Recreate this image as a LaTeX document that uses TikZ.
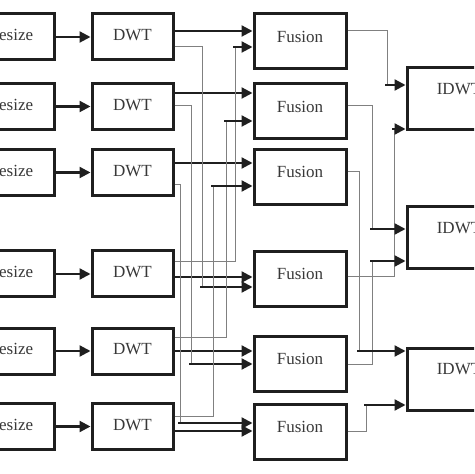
\documentclass[tikz,border=0pt]{standalone}
\usepackage{fontspec}
\setmainfont{Liberation Serif}
\usetikzlibrary{arrows.meta}

\begin{document}
\begin{tikzpicture}[x=0.5pt,y=-0.5pt,
    box/.style={draw=black!88,line width=1.5pt,inner sep=0pt,text=black!78,
        font=\fontsize{8.5}{10}\selectfont,text height=6pt},
    rsbox/.style={box,minimum width=43.5pt,minimum height=23pt,text depth=2.4pt},
    dwtbox/.style={box,minimum width=40.5pt,minimum height=23pt,text depth=2.4pt},
    fusbox/.style={box,minimum width=46pt,minimum height=27.5pt,text depth=5.4pt},
    idwtbox/.style={box,minimum width=52pt,minimum height=31pt,text depth=10.4pt},
    arr/.style={line width=1.1pt,black!88,-{Triangle[length=5.5pt,width=5.5pt]}},
    wire/.style={line width=0.5pt,black!50}]
        \useasboundingbox (0,0) rectangle (474,474);
        \clip (0,0) rectangle (474,474);
        % resize column
        \node at (10.5,37) [rsbox] (rs1) {Resize};
        \node at (10.5,106.5) [rsbox] (rs2) {Resize};
        \node at (10.5,172.5) [rsbox] (rs3) {Resize};
        \node at (10.5,274) [rsbox] (rs4) {Resize};
        \node at (10.5,351) [rsbox] (rs5) {Resize};
        \node at (10.5,426.5) [rsbox] (rs6) {Resize};
        % dwt column
        \node at (132.5,37) [dwtbox] (dwt1) {DWT};
        \node at (132.5,106.5) [dwtbox] (dwt2) {DWT};
        \node at (132.5,172.5) [dwtbox] (dwt3) {DWT};
        \node at (132.5,274) [dwtbox] (dwt4) {DWT};
        \node at (132.5,351) [dwtbox] (dwt5) {DWT};
        \node at (132.5,426.5) [dwtbox] (dwt6) {DWT};
        % fusion column
        \node at (300,41.5) [fusbox] (fus1) {Fusion};
        \node at (300,111.5) [fusbox] (fus2) {Fusion};
        \node at (300,177) [fusbox] (fus3) {Fusion};
        \node at (300,279) [fusbox] (fus4) {Fusion};
        \node at (300,364) [fusbox] (fus5) {Fusion};
        \node at (300,432) [fusbox] (fus6) {Fusion};
        % idwt column
        \node at (459,98.5) [idwtbox] (idwt1) {IDWT};
        \node at (459,238) [idwtbox] (idwt2) {IDWT};
        \node at (459,379) [idwtbox] (idwt3) {IDWT};
        \draw[arr] (rs1) -- (dwt1);
        \draw[arr] (rs2) -- (dwt2);
        \draw[arr] (rs3) -- (dwt3);
        \draw[arr] (rs4) -- (dwt4);
        \draw[arr] (rs5) -- (dwt5);
        \draw[arr] (rs6) -- (dwt6);
        % straight dwt -> fusion
        \draw[arr] (dwt1.east |- 0,31) -- (fus1.west |- 0,31);
        \draw[arr] (dwt2.east |- 0,93) -- (fus2.west |- 0,93);
        \draw[arr] (dwt3.east |- 0,163) -- (fus3.west |- 0,163);
        \draw[arr] (dwt4.east |- 0,277) -- (fus4.west |- 0,277);
        \draw[arr] (dwt5.east |- 0,351) -- (fus5.west |- 0,351);
        \draw[arr] (dwt6.east |- 0,431) -- (fus6.west |- 0,431);
        % crossed dwt -> fusion
        \draw[wire] (dwt1.east |- 0,47) -| (202,287);
        \draw[arr] (200,287) -- (fus4.west |- 0,287);
        \draw[wire] (dwt2.east |- 0,106) -| (191,364);
        \draw[arr] (189,364) -- (fus5.west |- 0,364);
        \draw[wire] (dwt3.east |- 0,185) -| (180,423);
        \draw[arr] (178,423) -- (fus6.west |- 0,423);
        \draw[wire] (dwt4.east |- 0,262) -| (235,47);
        \draw[arr] (233,47) -- (fus1.west |- 0,47);
        \draw[wire] (dwt5.east |- 0,337) -| (226,121);
        \draw[arr] (224,121) -- (fus2.west |- 0,121);
        \draw[wire] (dwt6.east |- 0,416) -| (213,186);
        \draw[arr] (211,186) -- (fus3.west |- 0,186);
        % fusion -> idwt
        \draw[wire] (fus1.east |- 0,31) -| (387,85);
        \draw[arr] (385,85) -- (idwt1.west |- 0,85);
        \draw[wire] (fus4.east |- 0,277) -| (394,129);
        \draw[arr] (392,129) -- (idwt1.west |- 0,129);
        \draw[wire] (fus2.east |- 0,106) -| (372,229);
        \draw[arr] (370,229) -- (idwt2.west |- 0,229);
        \draw[wire] (fus5.east |- 0,364) -| (372,261);
        \draw[arr] (370,261) -- (idwt2.west |- 0,261);
        \draw[wire] (fus3.east |- 0,172) -| (359,351);
        \draw[arr] (357,351) -- (idwt3.west |- 0,351);
        \draw[wire] (fus6.east |- 0,431) -| (366,405);
        \draw[arr] (364,405) -- (idwt3.west |- 0,405);
    \end{tikzpicture}
\end{document}
